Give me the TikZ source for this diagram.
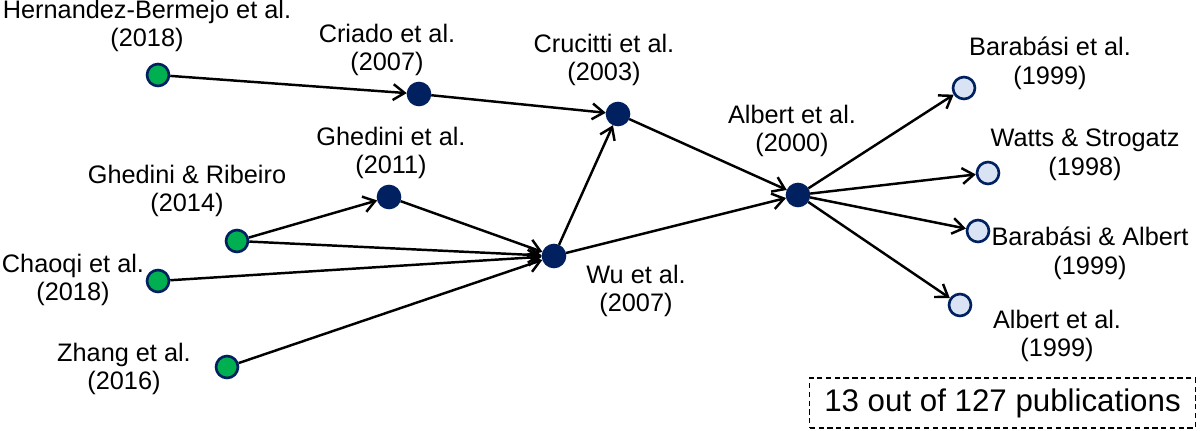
\documentclass[tikz,border=0pt]{standalone}
\usepackage{fontspec}
\setmainfont{Liberation Sans}
\usetikzlibrary{arrows.meta}
\definecolor{navy}{HTML}{002060}
\definecolor{gr}{HTML}{00B050}
\definecolor{lb}{HTML}{DAE3F3}
\tikzset{
  pub/.style={circle, draw=navy, line width=1.5pt, minimum size=12.5pt, inner sep=0pt},
  src/.style={pub, fill=gr},
  mid/.style={pub, fill=navy},
  ref/.style={pub, fill=lb},
  lab/.style={align=center, inner sep=0pt, font=\fontsize{14.4}{16.3}\selectfont},
  cite/.style={-{Straight Barb[length=6.5pt,width=9pt,line width=1.4pt]}, line width=1.4pt, black}
}
\begin{document}
\begin{tikzpicture}[x=0.02cm,y=-0.02cm]
\useasboundingbox (0,0) rectangle (1200,430);
% nodes
\node[src] (hb) at (158,75) {};
\node[mid] (cr) at (419,94) {};
\node[mid] (cu) at (618,114) {};
\node[mid] (gh) at (389,197) {};
\node[src] (gr) at (237,241) {};
\node[src] (ch) at (158,281) {};
\node[src] (zh) at (227,367) {};
\node[mid] (wu) at (554,256) {};
\node[mid] (al) at (798,195) {};
\node[ref] (ba) at (964,88) {};
\node[ref] (ws) at (988,173) {};
\node[ref] (bal) at (978,231) {};
\node[ref] (a99) at (960,305) {};
% labels
\node[lab] (lhb) at (147,26) {Hernandez-Bermejo et al.\\(2018)};
\node[lab] (lcr) at (387,50) {Criado et al.\\(2007)};
\node[lab] (lcu) at (604,60) {Crucitti et al.\\(2003)};
\node[lab] (lgh) at (391,153) {Ghedini et al.\\(2011)};
\node[lab] (lgr) at (187,191) {Ghedini \& Ribeiro\\(2014)};
\node[lab] (lch) at (73,280) {Chaoqi et al.\\(2018)};
\node[lab] (lzh) at (124,369) {Zhang et al.\\(2016)};
\node[lab] (lwu) at (636,291) {Wu et al.\\(2007)};
\node[lab] (lal) at (792,131) {Albert et al.\\(2000)};
\node[lab] (lba) at (1050,63) {Barabási et al.\\(1999)};
\node[lab] (lws) at (1085,155) {Watts \& Strogatz\\(1998)};
\node[lab] (lbal) at (1090,253) {Barabási \& Albert\\(1999)};
\node[lab] (la99) at (1057,336) {Albert et al.\\(1999)};
% edges
\draw[cite] (hb) -- (cr);
\draw[cite] (cr) -- (cu);
\draw[cite] (gr) -- (gh);
\draw[cite] (gr) -- (wu);
\draw[cite] (gh) -- (wu);
\draw[cite] (ch) -- (wu);
\draw[cite] (zh) -- (wu);
\draw[cite] (wu) -- (cu);
\draw[cite] (wu) -- (al);
\draw[cite] (cu) -- (al);
\draw[cite] (al) -- (ba);
\draw[cite] (al) -- (ws);
\draw[cite] (al) -- (bal);
\draw[cite] (al) -- (a99);
% box
\node[draw, dash pattern=on 3pt off 2pt, line width=0.8pt, minimum width=387*0.567pt, minimum height=50*0.567pt, inner sep=0pt, font=\fontsize{17.8}{20}\selectfont] (box) at (1002.5,403) {13 out of 127 publications};
\end{tikzpicture}
\end{document}
